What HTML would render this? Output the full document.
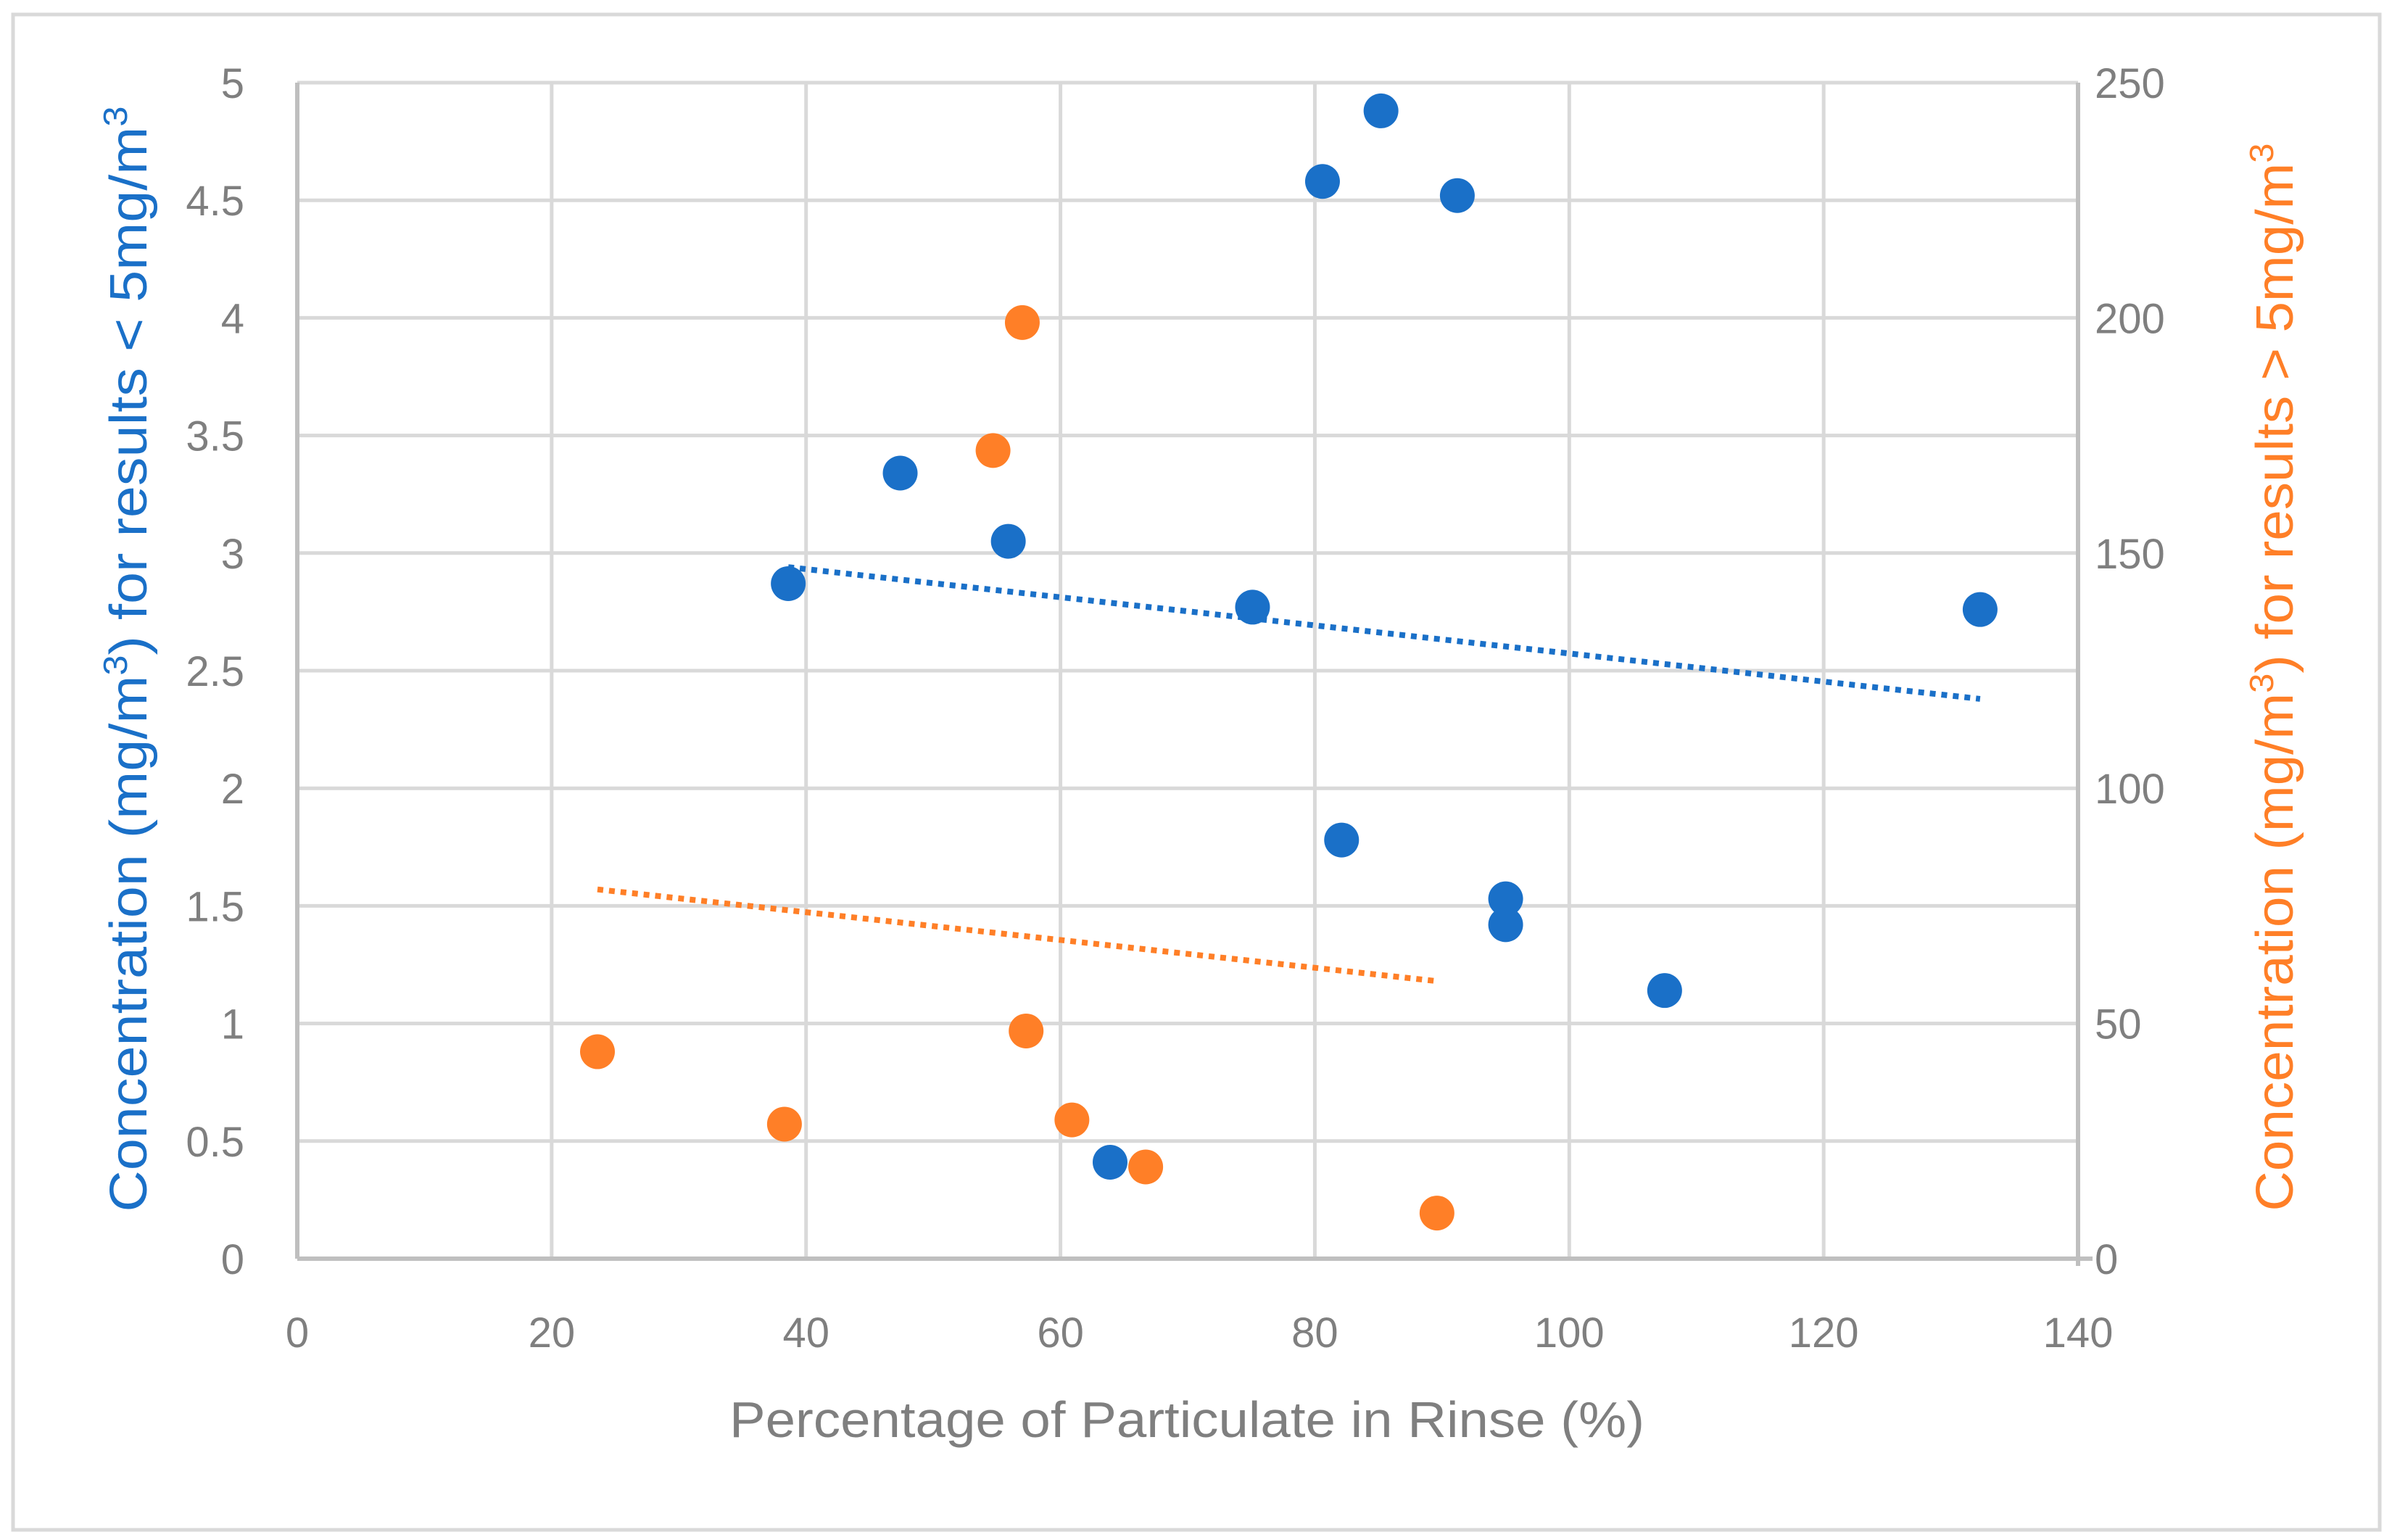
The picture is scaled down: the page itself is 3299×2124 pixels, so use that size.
<!DOCTYPE html>
<html><head><meta charset="utf-8"><style>
html,body{margin:0;padding:0;background:#fff;}
svg{display:block;font-family:"Liberation Sans",sans-serif;}
</style></head><body>
<svg id="chart" width="3299" height="2124" viewBox="0 0 3299 2124">
<rect x="18" y="20" width="3264" height="2090" fill="#fff" stroke="#d9d9d9" stroke-width="5"/>
<g id="grid"></g>
<g id="axes"></g>
<g id="trends"></g>
<g id="points"></g>
<text x="1637" y="1982" text-anchor="middle" font-size="70" fill="#7f7f7f" textLength="1262" lengthAdjust="spacingAndGlyphs">Percentage of Particulate in Rinse (%)</text>
<text transform="translate(202,909) rotate(-90)" text-anchor="middle" font-size="72" fill="#1a70c8" textLength="1525" lengthAdjust="spacingAndGlyphs">Concentration (mg/m<tspan font-size="46" dy="-27">3</tspan><tspan dy="27">) for results &lt; 5mg/m</tspan><tspan font-size="46" dy="-27">3</tspan></text>
<text transform="translate(3162,934) rotate(-90)" text-anchor="middle" font-size="72" fill="#ff7f27" textLength="1473" lengthAdjust="spacingAndGlyphs">Concentration (mg/m<tspan font-size="46" dy="-27">3</tspan><tspan dy="27">) for results &gt; 5mg/m</tspan><tspan font-size="46" dy="-27">3</tspan></text>
</svg>
<script>
const xTicks=[0,20,40,60,80,100,120,140];
const yLeftTicks=[0,0.5,1,1.5,2,2.5,3,3.5,4,4.5,5];
const yLeftLabels=["0","0.5","1","1.5","2","2.5","3","3.5","4","4.5","5"];
const yRightTicks=[0,50,100,150,200,250];
const blueX=[38.6,47.4,55.9,75.1,80.6,85.2,91.2,82.1,95.0,95.0,107.5,132.3,63.9];
const blueY=[2.87,3.34,3.05,2.77,4.58,4.88,4.52,1.78,1.53,1.42,1.14,2.76,0.41];
const orangeX=[23.6,38.3,54.7,57.0,57.3,60.9,66.7,89.6];
const orangeY=[44,28.6,171.8,199,48.4,29.5,19.5,9.7];
const blueTrendX=[38.6,132.3];
const blueTrendY=[2.94,2.38];
const orangeTrendX=[23.6,89.6];
const orangeTrendY=[78.5,59];
const L=410,R=2866,T=114,B=1736;
const NS="http://www.w3.org/2000/svg";
const sx=v=>L+(v-0)/(140-0)*(R-L);
const syL=v=>B-v/5*(B-T);
const syR=v=>B-v/250*(B-T);
function mk(tag,attrs,parent){const e=document.createElementNS(NS,tag);for(const k in attrs)e.setAttribute(k,attrs[k]);parent.appendChild(e);return e;}
const grid=document.getElementById('grid'),axes=document.getElementById('axes'),pts=document.getElementById('points'),tr=document.getElementById('trends');
yLeftTicks.forEach((v,i)=>{
  if(v>0){const g=mk('line',{x1:L,x2:R,y1:syL(v),y2:syL(v),stroke:'#d9d9d9','stroke-width':5},grid);
  
  }
  const t=mk('text',{x:337,y:syL(v)+21,'text-anchor':'end','font-size':58,fill:'#7f7f7f'},axes);t.textContent=yLeftLabels[i];
  
  
});
yRightTicks.forEach(v=>{
  const t=mk('text',{x:2889,y:syR(v)+21,'text-anchor':'start','font-size':58,fill:'#7f7f7f'},axes);t.textContent=String(v);
  
  
});
xTicks.forEach(v=>{
  if(v>0&&v<140){const g=mk('line',{x1:sx(v),x2:sx(v),y1:T,y2:B,stroke:'#d9d9d9','stroke-width':5},grid);
  
  }
  const t=mk('text',{x:sx(v),y:1858,'text-anchor':'middle','font-size':58,fill:'#7f7f7f'},axes);t.textContent=String(v);
  
  
});
const a1=mk('line',{x1:L,x2:L,y1:T,y2:B,stroke:'#bfbfbf','stroke-width':6},axes);


const a2=mk('line',{x1:R,x2:R,y1:T,y2:B+10,stroke:'#bfbfbf','stroke-width':6},axes);


const a3=mk('line',{x1:L,x2:R+20,y1:B,y2:B,stroke:'#bfbfbf','stroke-width':6},axes);


mk('line',{x1:L,x2:R,y1:T,y2:T,stroke:'#d9d9d9','stroke-width':5},grid);
function trend(xs,ys,sy,color,name){
  const l=mk('line',{x1:sx(xs[0]),y1:sy(ys[0]),x2:sx(xs[1]),y2:sy(ys[1]),stroke:color,'stroke-width':8,'stroke-dasharray':'8 8'},tr);
  
  }
trend(blueTrendX,blueTrendY,syL,'#1a70c8','blue-trendline');
trend(orangeTrendX,orangeTrendY,syR,'#ff7f27','orange-trendline');
blueX.forEach((x,i)=>{const c=mk('circle',{cx:sx(x),cy:syL(blueY[i]),r:24,fill:'#1a70c8'},pts);
  
  });
orangeX.forEach((x,i)=>{const c=mk('circle',{cx:sx(x),cy:syR(orangeY[i]),r:24,fill:'#ff7f27'},pts);
  
  });
</script>
</body></html>
